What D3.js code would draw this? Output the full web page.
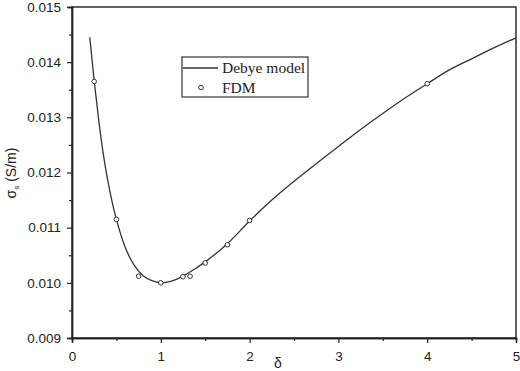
<!DOCTYPE html>
<html><head><meta charset="utf-8">
<script src="https://cdn.jsdelivr.net/npm/d3@7"></script>
<style>body{margin:0;background:#fff}svg{display:block}</style>
</head><body>
<script>
const debyeX = [0.2,0.25,0.3,0.35,0.4,0.45,0.5,0.6,0.7,0.8,0.9,1.0,1.1,1.2,1.3,1.4,1.5,1.75,2.0,2.25,2.5,2.75,3.0,3.25,3.5,3.75,4.0,4.25,4.5,4.75,5.0];
const debyeY = [0.01445,0.01366,0.01296,0.01236,0.01188,0.01148,0.01115,0.01064,0.01032,0.01013,0.01004,0.01000,0.01002,0.01008,0.01017,0.01027,0.01038,0.01071,0.01112,0.01150,0.01184,0.01216,0.01247,0.01278,0.01307,0.01335,0.01361,0.01386,0.01406,0.01426,0.01444];
const fdmX = [0.25,0.5,0.75,1.0,1.25,1.33,1.5,1.75,2.0,4.0];
const fdmY = [0.01365,0.01115,0.01012,0.01000,0.01011,0.01012,0.01036,0.01069,0.01113,0.01361];
const xTicks = [0,1,2,3,4,5];
const yTicks = [0.009,0.010,0.011,0.012,0.013,0.014,0.015];

const W=520,H=371, L=72,R=516,T=7,B=338;
const svg=d3.select("body").append("svg").attr("width",W).attr("height",H);
const x=d3.scaleLinear().domain([0,5]).range([L,R]);
const y=d3.scaleLinear().domain([0.009,0.015]).range([B,T]);

svg.append("rect").attr("x",L).attr("y",T).attr("width",R-L).attr("height",B-T)
  .attr("fill","none").attr("stroke","#222").attr("stroke-width",1.4);

const xMinor = d3.range(0.5,5,1);
const yMinor = d3.range(0.0095,0.015,0.001);

svg.append("g").attr("transform",`translate(0,${B})`)
  .call(d3.axisBottom(x).tickValues(xTicks).tickFormat(d3.format("d")).tickSize(5).tickPadding(8));
svg.append("g").attr("transform",`translate(0,${B})`)
  .call(d3.axisBottom(x).tickValues(xMinor).tickFormat("").tickSize(3));
svg.append("g").attr("transform",`translate(${L},0)`)
  .call(d3.axisLeft(y).tickValues(yTicks).tickFormat(d3.format(".3f")).tickSize(5).tickPadding(6));
svg.append("g").attr("transform",`translate(${L},0)`)
  .call(d3.axisLeft(y).tickValues(yMinor).tickFormat("").tickSize(3));
svg.selectAll(".domain").attr("stroke","#222").attr("stroke-width",1.4);
svg.selectAll(".tick line").attr("stroke","#222").attr("stroke-width",1.2);
svg.selectAll(".tick text").attr("font-family","Liberation Sans, Arial, sans-serif").attr("font-size",13.5).attr("fill","#222");

const debye = debyeX.map((d,i)=>[d,debyeY[i]]);
svg.append("path").datum(debye)
  .attr("d",d3.line().x(d=>x(d[0])).y(d=>y(d[1])).curve(d3.curveCatmullRom))
  .attr("fill","none").attr("stroke","#333").attr("stroke-width",1.3);

const fdm = fdmX.map((d,i)=>[d,fdmY[i]]);
svg.selectAll("circle.fdm").data(fdm).enter().append("circle")
  .attr("cx",d=>x(d[0])).attr("cy",d=>y(d[1])).attr("r",2.3)
  .attr("fill","#fff").attr("stroke","#333").attr("stroke-width",1);

const lg = svg.append("g");
lg.append("rect").attr("x",182).attr("y",57).attr("width",126).attr("height",40)
  .attr("fill","#fff").attr("stroke","#333").attr("stroke-width",1.2);
lg.append("line").attr("x1",183).attr("x2",218).attr("y1",68).attr("y2",68)
  .attr("stroke","#333").attr("stroke-width",1.3);
lg.append("circle").attr("cx",201).attr("cy",87.5).attr("r",2.3)
  .attr("fill","#fff").attr("stroke","#333");
lg.append("text").attr("x",222).attr("y",73).text("Debye model")
  .attr("font-family","Liberation Serif, Times New Roman, serif").attr("font-size",15.5).attr("fill","#222");
lg.append("text").attr("x",222).attr("y",93).text("FDM")
  .attr("font-family","Liberation Serif, Times New Roman, serif").attr("font-size",15.5).attr("fill","#222");

svg.append("text").attr("x",278).attr("y",368).attr("text-anchor","middle")
  .attr("font-family","Liberation Sans, Arial, sans-serif").attr("font-size",14).attr("fill","#222").text("δ");
const yl = svg.append("text").attr("transform","translate(16,173) rotate(-90)").attr("text-anchor","middle")
  .attr("font-family","Liberation Sans, Arial, sans-serif").attr("font-size",14).attr("fill","#222");
yl.append("tspan").text("σ");
yl.append("tspan").attr("font-size",8).attr("dy",3).text("s");
yl.append("tspan").attr("dy",-3).text(" (S/m)");
</script>
</body></html>
